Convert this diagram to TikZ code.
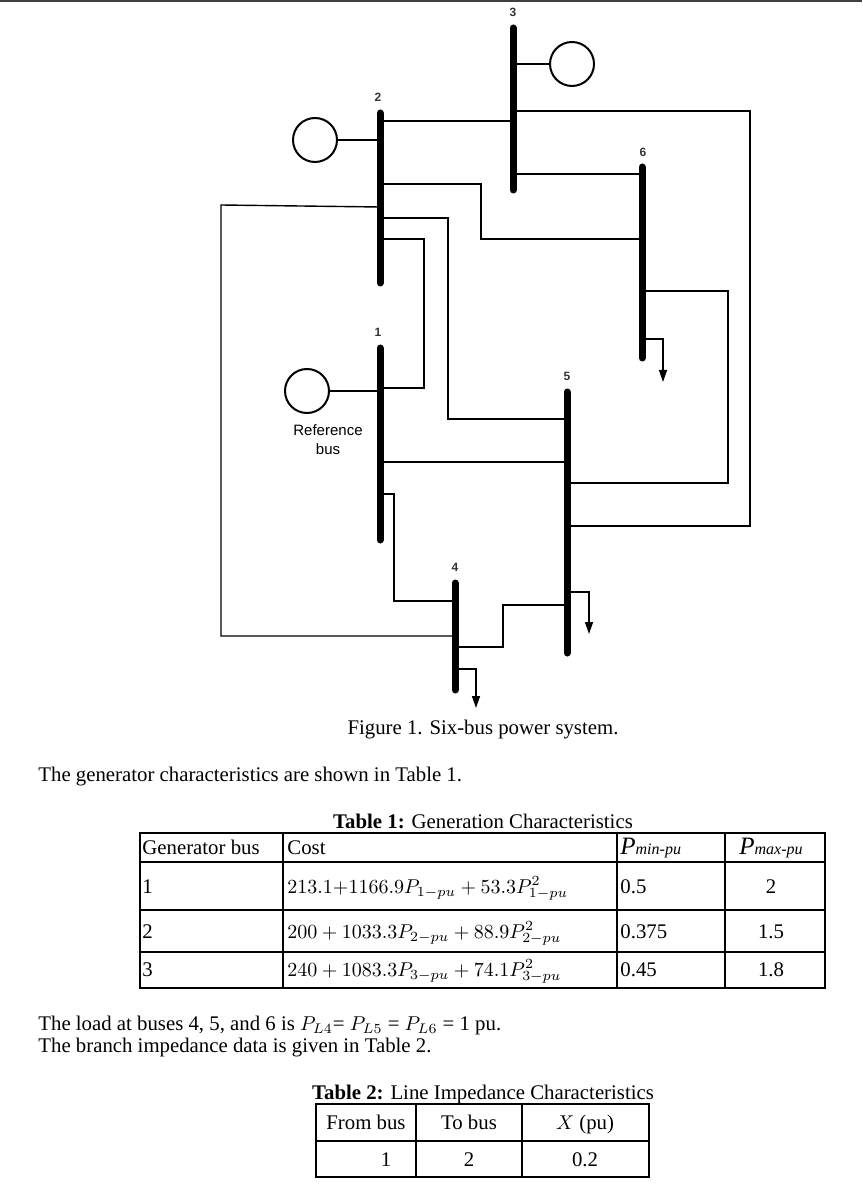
\documentclass[tikz,border=0pt]{standalone}
\usepackage{fontspec}
\setmainfont{Liberation Serif}
\newfontfamily\dsans{Liberation Sans}
\usetikzlibrary{arrows.meta}
\begin{document}
\begin{tikzpicture}[x=0.5pt,y=-0.5pt,
  bus/.style={line width=3.5pt,line cap=round},
  ln/.style={line width=0.7pt},
  gen/.style={circle,draw,line width=1pt,minimum size=22pt,inner sep=0},
  lbl/.style={font=\dsans\fontsize{6}{7}\selectfont\bfseries,text=black!80},
  load/.style={ln,-{Triangle[width=4pt,length=6pt]}},
  txt/.style={font=\fontsize{10.4}{12}\selectfont,anchor=base west,inner sep=0},
  tc/.style={font=\fontsize{10.4}{12}\selectfont,inner sep=0}]
\useasboundingbox (0,0) rectangle (862,1197);
\draw[line width=1.2pt,black!75] (0,1) -- (862,1);
% buses
\coordinate (b3t) at (513,28); \coordinate (b3b) at (513,190);
\coordinate (b2t) at (380,113); \coordinate (b2b) at (380,283);
\coordinate (b6t) at (642,167); \coordinate (b6b) at (642,358);
\coordinate (b1t) at (380,348); \coordinate (b1b) at (380,540);
\coordinate (b5t) at (567,392); \coordinate (b5b) at (567,653);
\coordinate (b4t) at (455,583); \coordinate (b4b) at (455,690);
\draw[bus] (b3t)--(b3b); \draw[bus] (b2t)--(b2b); \draw[bus] (b6t)--(b6b);
\draw[bus] (b1t)--(b1b); \draw[bus] (b5t)--(b5b); \draw[bus] (b4t)--(b4b);
\node[lbl] (l3) at (513,12) {3}; \node[lbl] (l2) at (378,97) {2};
\node[lbl] (l6) at (643,152) {6}; \node[lbl] (l1) at (378,332) {1};
\node[lbl] (l5) at (567,376) {5}; \node[lbl] (l4) at (455,567) {4};
% generators
\node[gen] (g3) at (572,64) {}; \draw[ln] (513,64) -- (g3);
\node[gen] (g2) at (315,140) {}; \draw[ln] (380,140) -- (g2);
\node[gen] (g1) at (307,391) {}; \draw[ln] (380,391) -- (g1);
\node[font=\dsans\fontsize{7.5}{9.5}\selectfont,align=center] (ref) at (328,440) {Reference\\bus};
% lines
\draw[ln] (380,121) -- (513,121);
\draw[ln] (513,111) -- (750,111) -- (750,526) -- (567,526);
\draw[ln] (513,174) -- (642,174);
\draw[ln] (380,184) -- (481,184) -- (481,239) -- (642,239);
\draw[ln] (380,207) -- (221,205) -- (221,636) -- (455,636);
\draw[ln] (380,218) -- (448,218) -- (448,419) -- (567,419);
\draw[ln] (380,239) -- (424,239) -- (424,388) -- (380,388);
\draw[ln] (642,291) -- (728,291) -- (728,483) -- (567,483);
\draw[ln] (380,462) -- (567,462);
\draw[ln] (380,494) -- (394,494) -- (394,601) -- (455,601);
\draw[ln] (455,647) -- (503,647) -- (503,605) -- (567,605);
% loads
\draw[load] (642,339) -- (663,339) -- (663,382);
\draw[load] (567,592) -- (589,592) -- (589,634);
\draw[load] (455,669) -- (476,669) -- (476,708);
% texts
\node[tc,anchor=base] (cap) at (483,734) {Figure 1. Six-bus power system.};
\node[txt] (t1) at (38,781) {The generator characteristics are shown in Table 1.};
\node[tc,anchor=base] (tab1) at (483,828) {\textbf{Table 1:} Generation Characteristics};
% table 1
\draw[line width=0.6pt] (140,833) rectangle (825,988);
\foreach \y in {862,910,952} \draw[line width=0.6pt] (140,\y) -- (825,\y);
\foreach \x in {283,617,725} \draw[line width=0.6pt] (\x,833) -- (\x,988);
\node[tc,anchor=base west] (h1) at (142,854) {Generator bus};
\node[tc,anchor=base west] (h2) at (287,854) {Cost};
\node[tc,anchor=base west] (h3) at (620,854) {{\fontsize{12.5}{12}\selectfont\itshape P}{\fontsize{8}{8}\selectfont\itshape min-pu}};
\node[tc,anchor=base] (h4) at (771,854) {{\fontsize{12.5}{12}\selectfont\itshape P}{\fontsize{8}{8}\selectfont\itshape max-pu}};
\node[tc,anchor=base west] (r1a) at (142,893) {1};
\node[tc,anchor=base west] (r1b) at (287,893) {$213.1{+}1166.9P_{1-pu}+53.3P^{2}_{1-pu}$};
\node[tc,anchor=base west] (r1c) at (620,893) {0.5};
\node[tc,anchor=base] (r1d) at (771,893) {2};
\node[tc,anchor=base west] (r2a) at (142,938) {2};
\node[tc,anchor=base west] (r2b) at (287,938) {$200+1033.3P_{2-pu}+88.9P^{2}_{2-pu}$};
\node[tc,anchor=base west] (r2c) at (620,938) {0.375};
\node[tc,anchor=base] (r2d) at (771,938) {1.5};
\node[tc,anchor=base west] (r3a) at (142,976) {3};
\node[tc,anchor=base west] (r3b) at (287,976) {$240+1083.3P_{3-pu}+74.1P^{2}_{3-pu}$};
\node[tc,anchor=base west] (r3c) at (620,976) {0.45};
\node[tc,anchor=base] (r3d) at (771,976) {1.8};
\node[txt] (t2) at (38,1030) {The load at buses 4, 5, and 6 is $P_{L4}$= $P_{L5}$ = $P_{L6}$ = 1 pu.};
\node[txt] (t3) at (38,1052) {The branch impedance data is given in Table 2.};
\node[tc,anchor=base] (tab2) at (483,1099) {\textbf{Table 2:} Line Impedance Characteristics};
\draw[line width=0.6pt] (316,1104) rectangle (649,1177);
\draw[line width=0.6pt] (316,1141) -- (649,1141);
\foreach \x in {416,522} \draw[line width=0.6pt] (\x,1104) -- (\x,1177);
\node[tc,anchor=base] (s1) at (366,1129) {From bus};
\node[tc,anchor=base] (s2) at (469,1129) {To bus};
\node[tc,anchor=base] (s3) at (585,1129) {$X$ (pu)};
\node[tc,anchor=base] (s4) at (386,1166) {1};
\node[tc,anchor=base] (s5) at (469,1166) {2};
\node[tc,anchor=base] (s6) at (585,1166) {0.2};
\end{tikzpicture}
\end{document}
